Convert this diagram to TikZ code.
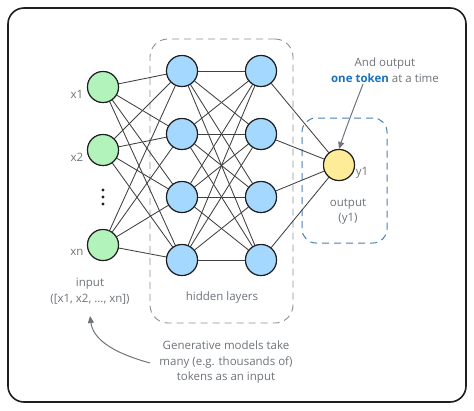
\documentclass[tikz,border=0pt]{standalone}
\usepackage{fontspec}
\setmainfont{Open Sans}
\usetikzlibrary{arrows.meta}
\definecolor{ink}{HTML}{1E1E1E}
\definecolor{gtxt}{HTML}{6F747A}
\definecolor{gdash}{HTML}{8A8F94}
\definecolor{bdash}{HTML}{4A80B8}
\definecolor{gfill}{HTML}{B2F2BB}
\definecolor{bfill}{HTML}{A5D8FF}
\definecolor{yfill}{HTML}{FFEC99}
\definecolor{tokblue}{HTML}{1971C2}
\tikzset{
  neuron/.style={circle,draw=ink,line width=1.1pt,minimum size=31pt,inner sep=0pt},
  innode/.style={neuron,fill=gfill},
  hidnode/.style={neuron,fill=bfill},
  outnode/.style={neuron,fill=yfill},
  conn/.style={draw=ink!85,line width=0.85pt},
  lbl/.style={text=gtxt,font=\fontsize{11.5}{13}\selectfont,inner sep=0pt},
  note/.style={text=gtxt,font=\fontsize{11.5}{15.5}\selectfont,align=center,inner sep=0pt},
  ann/.style={draw=gtxt,line width=1pt,-{Triangle[length=7pt,width=6pt]}}
}
\begin{document}
\begin{tikzpicture}[x=1pt,y=-1pt]
\useasboundingbox (0,0) rectangle (474,410);
\fill[white] (0,0) rectangle (474,410);
\draw[ink,line width=1.6pt,rounded corners=16pt] (8,8) rectangle (466,402);
% dashed boxes
\node[draw=gdash,dash pattern=on 7pt off 5pt,line width=0.9pt,rounded corners=18pt,minimum width=143pt,minimum height=284pt] (hbox) at (221.5,181) {};
\node[draw=bdash,dash pattern=on 7pt off 5pt,line width=1pt,rounded corners=14pt,minimum width=85pt,minimum height=125pt] (obox) at (344.5,180.5) {};
% neurons
\node[innode] (i1) at (103,87) {};
\node[innode] (i2) at (103,150) {};
\node[innode] (i3) at (103,245) {};
\foreach \j/\y in {1/71,2/134,3/197,4/260}{
  \node[hidnode] (a\j) at (182,\y) {};
  \node[hidnode] (b\j) at (261,\y) {};
}
\node[outnode] (o) at (339,165) {};
% connections
\foreach \i in {1,2,3}{\foreach \j in {1,2,3,4}{\draw[conn] (i\i) -- (a\j);}}
\foreach \i in {1,2,3,4}{\foreach \j in {1,2,3,4}{\draw[conn] (a\i) -- (b\j);}}
\foreach \j in {1,2,3,4}{\draw[conn] (b\j) -- (o);}
% redraw neurons on top
\node[innode] at (i1) {};
\node[innode] at (i2) {};
\node[innode] at (i3) {};
\foreach \j in {1,2,3,4}{\node[hidnode] at (a\j) {}; \node[hidnode] at (b\j) {};}
\node[outnode] at (o) {};
% dots
\foreach \d [count=\k] in {190,197,204}{\fill[ink] (103,\d) circle (1.6pt) coordinate (dot\k);}
% labels
\node[lbl] (lx1) at (77,94) {x1};
\node[lbl] (lx2) at (77,157) {x2};
\node[lbl] (lxn) at (77,252) {xn};
\node[lbl] (ly1) at (362,173) {y1};
\node[note] (inl) at (90,291) {input\\([x1, x2, ..., xn])};
\node[lbl] (hl) at (222,298) {hidden layers};
\node[note] (outl) at (348,211.5) {output\\(y1)};
\node[note] (topn) at (385,70) {And output\\{\color{tokblue}\bfseries one token} at a time};
\node[note] (botn) at (226,362.5) {Generative models take\\many (e.g. thousands of)\\tokens as an input};
% annotation arrows
\coordinate (ta) at (363,84);
\coordinate (ba) at (150,363);
\coordinate (bb) at (90,316);
\draw[ann] (ta) .. controls (355,105) and (347,125) .. (o.north);
\draw[ann] (ba) .. controls (110,352) and (93,338) .. (bb);
\end{tikzpicture}
\end{document}
